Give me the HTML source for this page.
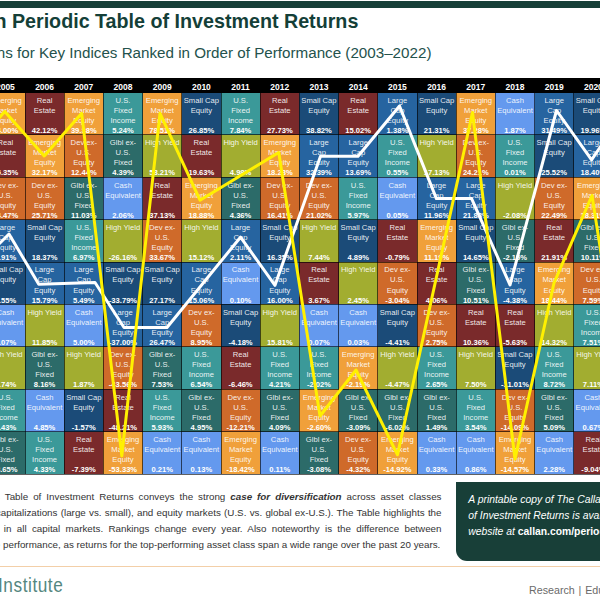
<!DOCTYPE html>
<html><head><meta charset="utf-8">
<style>
html,body{margin:0;padding:0;background:#fff;}
body{width:600px;height:600px;position:relative;overflow:hidden;font-family:"Liberation Sans",sans-serif;}
.topbar{position:absolute;left:0;top:1px;width:600px;height:6.8px;background:#163f38;}
.title{position:absolute;left:-5.6px;top:12.0px;font-size:19.7px;line-height:19.7px;font-weight:bold;color:#143f38;white-space:nowrap;}
.sub{position:absolute;left:-3.3px;top:45.0px;font-size:15.2px;line-height:15.2px;color:#24524c;white-space:nowrap;}
.hdr{position:absolute;left:0;top:78.2px;width:600px;height:14.6px;background:#000;}
.yr{position:absolute;top:80.40px;width:39.2px;height:14.20px;line-height:14.20px;text-align:center;color:#fff;font-weight:bold;font-size:8.5px;}
.gv{position:absolute;width:1px;background:rgba(0,0,0,0.62);top:92.4px;height:381.60px;}
.gh{position:absolute;height:1px;background:rgba(0,0,0,0.62);left:0;width:600px;}
.c{position:absolute;width:39.2px;height:42.4px;box-sizing:border-box;overflow:hidden;}
.c .n{position:absolute;left:-4px;right:-4px;top:3.4px;text-align:center;color:rgba(255,255,255,0.9);font-size:7.65px;line-height:10.1px;white-space:nowrap;}
.c .p{position:absolute;left:-4px;right:-4px;bottom:-0.2px;text-align:center;color:#fff;font-weight:bold;font-size:7.6px;line-height:9px;white-space:nowrap;}
svg.lines{position:absolute;left:0;top:0;}
.para{position:absolute;left:-90.1px;top:488.9px;width:531.6px;font-size:9.8px;line-height:16.1px;color:#333;}
.para div{text-align:justify;text-align-last:justify;white-space:nowrap;}
.para div.l{text-align:left;text-align-last:left;}
.para b{font-style:italic;}
.box{position:absolute;left:456.2px;top:482.2px;width:160px;height:78.6px;background:#183f38;border-bottom-left-radius:11px;}
.boxt{position:absolute;left:468.3px;top:492.3px;width:200px;font-size:10.35px;line-height:16.1px;color:#fff;font-style:italic;white-space:nowrap;}
.boxt b{font-style:normal;}
.oline{position:absolute;left:0;top:566px;width:600px;height:1.2px;background:#f3cfa8;}
.inst{position:absolute;left:-1.6px;top:574.6px;font-size:20.3px;line-height:20.3px;color:#548780;letter-spacing:0.65px;white-space:nowrap;transform:scaleX(0.85);transform-origin:0 0;}
.res{position:absolute;left:529.3px;top:585px;font-size:11.5px;line-height:11.5px;color:#6a6a6a;word-spacing:0.9px;white-space:nowrap;transform:scaleX(0.93);transform-origin:0 0;}
</style></head><body>
<div class="topbar"></div>
<div class="title">n Periodic Table of Investment Returns</div>
<div class="sub">ns for Key Indices Ranked in Order of Performance (2003&ndash;2022)</div>
<div class="c" style="left:-14.20px;top:92.40px;background:#f0a03a"><div class="n">Emerging<br>Market<br>Equity</div><div class="p">34.00%</div></div><div class="c" style="left:-14.20px;top:134.80px;background:#7a2a2b"><div class="n">Real<br>Estate</div><div class="p">15.35%</div></div><div class="c" style="left:-14.20px;top:177.20px;background:#cf6a2a"><div class="n">Dev ex-<br>U.S.<br>Equity</div><div class="p">14.47%</div></div><div class="c" style="left:-14.20px;top:219.60px;background:#2664a0"><div class="n">Large<br>Cap<br>Equity</div><div class="p">4.91%</div></div><div class="c" style="left:-14.20px;top:262.00px;background:#1b4b78"><div class="n">Small Cap<br>Equity</div><div class="p">4.55%</div></div><div class="c" style="left:-14.20px;top:304.40px;background:#6499ee"><div class="n">Cash<br>Equivalent</div><div class="p">3.07%</div></div><div class="c" style="left:-14.20px;top:346.80px;background:#a2ad30"><div class="n">High Yield</div><div class="p">2.74%</div></div><div class="c" style="left:-14.20px;top:389.20px;background:#3b9999"><div class="n">U.S.<br>Fixed<br>Income</div><div class="p">2.43%</div></div><div class="c" style="left:-14.20px;top:431.60px;background:#2c6b69"><div class="n">Glbl ex-<br>U.S.<br>Fixed</div><div class="p">-8.65%</div></div><div class="c" style="left:25.00px;top:92.40px;background:#7a2a2b"><div class="n">Real<br>Estate</div><div class="p">42.12%</div></div><div class="c" style="left:25.00px;top:134.80px;background:#f0a03a"><div class="n">Emerging<br>Market<br>Equity</div><div class="p">32.17%</div></div><div class="c" style="left:25.00px;top:177.20px;background:#cf6a2a"><div class="n">Dev ex-<br>U.S.<br>Equity</div><div class="p">25.71%</div></div><div class="c" style="left:25.00px;top:219.60px;background:#1b4b78"><div class="n">Small Cap<br>Equity</div><div class="p">18.37%</div></div><div class="c" style="left:25.00px;top:262.00px;background:#2664a0"><div class="n">Large<br>Cap<br>Equity</div><div class="p">15.79%</div></div><div class="c" style="left:25.00px;top:304.40px;background:#a2ad30"><div class="n">High Yield</div><div class="p">11.85%</div></div><div class="c" style="left:25.00px;top:346.80px;background:#2c6b69"><div class="n">Glbl ex-<br>U.S.<br>Fixed</div><div class="p">8.16%</div></div><div class="c" style="left:25.00px;top:389.20px;background:#6499ee"><div class="n">Cash<br>Equivalent</div><div class="p">4.85%</div></div><div class="c" style="left:25.00px;top:431.60px;background:#3b9999"><div class="n">U.S.<br>Fixed<br>Income</div><div class="p">4.33%</div></div><div class="c" style="left:64.20px;top:92.40px;background:#f0a03a"><div class="n">Emerging<br>Market<br>Equity</div><div class="p">39.38%</div></div><div class="c" style="left:64.20px;top:134.80px;background:#cf6a2a"><div class="n">Dev ex-<br>U.S.<br>Equity</div><div class="p">12.44%</div></div><div class="c" style="left:64.20px;top:177.20px;background:#2c6b69"><div class="n">Glbl ex-<br>U.S.<br>Fixed</div><div class="p">11.03%</div></div><div class="c" style="left:64.20px;top:219.60px;background:#3b9999"><div class="n">U.S.<br>Fixed<br>Income</div><div class="p">6.97%</div></div><div class="c" style="left:64.20px;top:262.00px;background:#2664a0"><div class="n">Large<br>Cap<br>Equity</div><div class="p">5.49%</div></div><div class="c" style="left:64.20px;top:304.40px;background:#6499ee"><div class="n">Cash<br>Equivalent</div><div class="p">5.00%</div></div><div class="c" style="left:64.20px;top:346.80px;background:#a2ad30"><div class="n">High Yield</div><div class="p">1.87%</div></div><div class="c" style="left:64.20px;top:389.20px;background:#1b4b78"><div class="n">Small Cap<br>Equity</div><div class="p">-1.57%</div></div><div class="c" style="left:64.20px;top:431.60px;background:#7a2a2b"><div class="n">Real<br>Estate</div><div class="p">-7.39%</div></div><div class="c" style="left:103.40px;top:92.40px;background:#3b9999"><div class="n">U.S.<br>Fixed<br>Income</div><div class="p">5.24%</div></div><div class="c" style="left:103.40px;top:134.80px;background:#2c6b69"><div class="n">Glbl ex-<br>U.S.<br>Fixed</div><div class="p">4.39%</div></div><div class="c" style="left:103.40px;top:177.20px;background:#6499ee"><div class="n">Cash<br>Equivalent</div><div class="p">2.06%</div></div><div class="c" style="left:103.40px;top:219.60px;background:#a2ad30"><div class="n">High Yield</div><div class="p">-26.16%</div></div><div class="c" style="left:103.40px;top:262.00px;background:#1b4b78"><div class="n">Small Cap<br>Equity</div><div class="p">-33.79%</div></div><div class="c" style="left:103.40px;top:304.40px;background:#2664a0"><div class="n">Large<br>Cap<br>Equity</div><div class="p">-37.00%</div></div><div class="c" style="left:103.40px;top:346.80px;background:#cf6a2a"><div class="n">Dev ex-<br>U.S.<br>Equity</div><div class="p">-43.56%</div></div><div class="c" style="left:103.40px;top:389.20px;background:#7a2a2b"><div class="n">Real<br>Estate</div><div class="p">-48.21%</div></div><div class="c" style="left:103.40px;top:431.60px;background:#f0a03a"><div class="n">Emerging<br>Market<br>Equity</div><div class="p">-53.33%</div></div><div class="c" style="left:142.60px;top:92.40px;background:#f0a03a"><div class="n">Emerging<br>Market<br>Equity</div><div class="p">78.51%</div></div><div class="c" style="left:142.60px;top:134.80px;background:#a2ad30"><div class="n">High Yield</div><div class="p">58.21%</div></div><div class="c" style="left:142.60px;top:177.20px;background:#7a2a2b"><div class="n">Real<br>Estate</div><div class="p">37.13%</div></div><div class="c" style="left:142.60px;top:219.60px;background:#cf6a2a"><div class="n">Dev ex-<br>U.S.<br>Equity</div><div class="p">33.67%</div></div><div class="c" style="left:142.60px;top:262.00px;background:#1b4b78"><div class="n">Small Cap<br>Equity</div><div class="p">27.17%</div></div><div class="c" style="left:142.60px;top:304.40px;background:#2664a0"><div class="n">Large<br>Cap<br>Equity</div><div class="p">26.47%</div></div><div class="c" style="left:142.60px;top:346.80px;background:#2c6b69"><div class="n">Glbl ex-<br>U.S.<br>Fixed</div><div class="p">7.53%</div></div><div class="c" style="left:142.60px;top:389.20px;background:#3b9999"><div class="n">U.S.<br>Fixed<br>Income</div><div class="p">5.93%</div></div><div class="c" style="left:142.60px;top:431.60px;background:#6499ee"><div class="n">Cash<br>Equivalent</div><div class="p">0.21%</div></div><div class="c" style="left:181.80px;top:92.40px;background:#1b4b78"><div class="n">Small Cap<br>Equity</div><div class="p">26.85%</div></div><div class="c" style="left:181.80px;top:134.80px;background:#7a2a2b"><div class="n">Real<br>Estate</div><div class="p">19.63%</div></div><div class="c" style="left:181.80px;top:177.20px;background:#f0a03a"><div class="n">Emerging<br>Market<br>Equity</div><div class="p">18.88%</div></div><div class="c" style="left:181.80px;top:219.60px;background:#a2ad30"><div class="n">High Yield</div><div class="p">15.12%</div></div><div class="c" style="left:181.80px;top:262.00px;background:#2664a0"><div class="n">Large<br>Cap<br>Equity</div><div class="p">15.06%</div></div><div class="c" style="left:181.80px;top:304.40px;background:#cf6a2a"><div class="n">Dev ex-<br>U.S.<br>Equity</div><div class="p">8.95%</div></div><div class="c" style="left:181.80px;top:346.80px;background:#3b9999"><div class="n">U.S.<br>Fixed<br>Income</div><div class="p">6.54%</div></div><div class="c" style="left:181.80px;top:389.20px;background:#2c6b69"><div class="n">Glbl ex-<br>U.S.<br>Fixed</div><div class="p">4.95%</div></div><div class="c" style="left:181.80px;top:431.60px;background:#6499ee"><div class="n">Cash<br>Equivalent</div><div class="p">0.13%</div></div><div class="c" style="left:221.00px;top:92.40px;background:#3b9999"><div class="n">U.S.<br>Fixed<br>Income</div><div class="p">7.84%</div></div><div class="c" style="left:221.00px;top:134.80px;background:#a2ad30"><div class="n">High Yield</div><div class="p">4.98%</div></div><div class="c" style="left:221.00px;top:177.20px;background:#2c6b69"><div class="n">Glbl ex-<br>U.S.<br>Fixed</div><div class="p">4.36%</div></div><div class="c" style="left:221.00px;top:219.60px;background:#2664a0"><div class="n">Large<br>Cap<br>Equity</div><div class="p">2.11%</div></div><div class="c" style="left:221.00px;top:262.00px;background:#6499ee"><div class="n">Cash<br>Equivalent</div><div class="p">0.10%</div></div><div class="c" style="left:221.00px;top:304.40px;background:#1b4b78"><div class="n">Small Cap<br>Equity</div><div class="p">-4.18%</div></div><div class="c" style="left:221.00px;top:346.80px;background:#7a2a2b"><div class="n">Real<br>Estate</div><div class="p">-6.46%</div></div><div class="c" style="left:221.00px;top:389.20px;background:#cf6a2a"><div class="n">Dev ex-<br>U.S.<br>Equity</div><div class="p">-12.21%</div></div><div class="c" style="left:221.00px;top:431.60px;background:#f0a03a"><div class="n">Emerging<br>Market<br>Equity</div><div class="p">-18.42%</div></div><div class="c" style="left:260.20px;top:92.40px;background:#7a2a2b"><div class="n">Real<br>Estate</div><div class="p">27.73%</div></div><div class="c" style="left:260.20px;top:134.80px;background:#f0a03a"><div class="n">Emerging<br>Market<br>Equity</div><div class="p">18.23%</div></div><div class="c" style="left:260.20px;top:177.20px;background:#cf6a2a"><div class="n">Dev ex-<br>U.S.<br>Equity</div><div class="p">16.41%</div></div><div class="c" style="left:260.20px;top:219.60px;background:#1b4b78"><div class="n">Small Cap<br>Equity</div><div class="p">16.35%</div></div><div class="c" style="left:260.20px;top:262.00px;background:#2664a0"><div class="n">Large<br>Cap<br>Equity</div><div class="p">16.00%</div></div><div class="c" style="left:260.20px;top:304.40px;background:#a2ad30"><div class="n">High Yield</div><div class="p">15.81%</div></div><div class="c" style="left:260.20px;top:346.80px;background:#3b9999"><div class="n">U.S.<br>Fixed<br>Income</div><div class="p">4.21%</div></div><div class="c" style="left:260.20px;top:389.20px;background:#2c6b69"><div class="n">Glbl ex-<br>U.S.<br>Fixed</div><div class="p">4.09%</div></div><div class="c" style="left:260.20px;top:431.60px;background:#6499ee"><div class="n">Cash<br>Equivalent</div><div class="p">0.11%</div></div><div class="c" style="left:299.40px;top:92.40px;background:#1b4b78"><div class="n">Small Cap<br>Equity</div><div class="p">38.82%</div></div><div class="c" style="left:299.40px;top:134.80px;background:#2664a0"><div class="n">Large<br>Cap<br>Equity</div><div class="p">32.39%</div></div><div class="c" style="left:299.40px;top:177.20px;background:#cf6a2a"><div class="n">Dev ex-<br>U.S.<br>Equity</div><div class="p">21.02%</div></div><div class="c" style="left:299.40px;top:219.60px;background:#a2ad30"><div class="n">High Yield</div><div class="p">7.44%</div></div><div class="c" style="left:299.40px;top:262.00px;background:#7a2a2b"><div class="n">Real<br>Estate</div><div class="p">3.67%</div></div><div class="c" style="left:299.40px;top:304.40px;background:#6499ee"><div class="n">Cash<br>Equivalent</div><div class="p">0.07%</div></div><div class="c" style="left:299.40px;top:346.80px;background:#3b9999"><div class="n">U.S.<br>Fixed<br>Income</div><div class="p">-2.02%</div></div><div class="c" style="left:299.40px;top:389.20px;background:#f0a03a"><div class="n">Emerging<br>Market<br>Equity</div><div class="p">-2.60%</div></div><div class="c" style="left:299.40px;top:431.60px;background:#2c6b69"><div class="n">Glbl ex-<br>U.S.<br>Fixed</div><div class="p">-3.08%</div></div><div class="c" style="left:338.60px;top:92.40px;background:#7a2a2b"><div class="n">Real<br>Estate</div><div class="p">15.02%</div></div><div class="c" style="left:338.60px;top:134.80px;background:#2664a0"><div class="n">Large<br>Cap<br>Equity</div><div class="p">13.69%</div></div><div class="c" style="left:338.60px;top:177.20px;background:#3b9999"><div class="n">U.S.<br>Fixed<br>Income</div><div class="p">5.97%</div></div><div class="c" style="left:338.60px;top:219.60px;background:#1b4b78"><div class="n">Small Cap<br>Equity</div><div class="p">4.89%</div></div><div class="c" style="left:338.60px;top:262.00px;background:#a2ad30"><div class="n">High Yield</div><div class="p">2.45%</div></div><div class="c" style="left:338.60px;top:304.40px;background:#6499ee"><div class="n">Cash<br>Equivalent</div><div class="p">0.03%</div></div><div class="c" style="left:338.60px;top:346.80px;background:#f0a03a"><div class="n">Emerging<br>Market<br>Equity</div><div class="p">-2.19%</div></div><div class="c" style="left:338.60px;top:389.20px;background:#2c6b69"><div class="n">Glbl ex-<br>U.S.<br>Fixed</div><div class="p">-3.09%</div></div><div class="c" style="left:338.60px;top:431.60px;background:#cf6a2a"><div class="n">Dev ex-<br>U.S.<br>Equity</div><div class="p">-4.32%</div></div><div class="c" style="left:377.80px;top:92.40px;background:#2664a0"><div class="n">Large<br>Cap<br>Equity</div><div class="p">1.38%</div></div><div class="c" style="left:377.80px;top:134.80px;background:#3b9999"><div class="n">U.S.<br>Fixed<br>Income</div><div class="p">0.55%</div></div><div class="c" style="left:377.80px;top:177.20px;background:#6499ee"><div class="n">Cash<br>Equivalent</div><div class="p">0.05%</div></div><div class="c" style="left:377.80px;top:219.60px;background:#7a2a2b"><div class="n">Real<br>Estate</div><div class="p">-0.79%</div></div><div class="c" style="left:377.80px;top:262.00px;background:#cf6a2a"><div class="n">Dev ex-<br>U.S.<br>Equity</div><div class="p">-3.04%</div></div><div class="c" style="left:377.80px;top:304.40px;background:#1b4b78"><div class="n">Small Cap<br>Equity</div><div class="p">-4.41%</div></div><div class="c" style="left:377.80px;top:346.80px;background:#a2ad30"><div class="n">High Yield</div><div class="p">-4.47%</div></div><div class="c" style="left:377.80px;top:389.20px;background:#2c6b69"><div class="n">Glbl ex-<br>U.S.<br>Fixed</div><div class="p">-6.02%</div></div><div class="c" style="left:377.80px;top:431.60px;background:#f0a03a"><div class="n">Emerging<br>Market<br>Equity</div><div class="p">-14.92%</div></div><div class="c" style="left:417.00px;top:92.40px;background:#1b4b78"><div class="n">Small Cap<br>Equity</div><div class="p">21.31%</div></div><div class="c" style="left:417.00px;top:134.80px;background:#a2ad30"><div class="n">High Yield</div><div class="p">17.13%</div></div><div class="c" style="left:417.00px;top:177.20px;background:#2664a0"><div class="n">Large<br>Cap<br>Equity</div><div class="p">11.96%</div></div><div class="c" style="left:417.00px;top:219.60px;background:#f0a03a"><div class="n">Emerging<br>Market<br>Equity</div><div class="p">11.19%</div></div><div class="c" style="left:417.00px;top:262.00px;background:#7a2a2b"><div class="n">Real<br>Estate</div><div class="p">4.06%</div></div><div class="c" style="left:417.00px;top:304.40px;background:#cf6a2a"><div class="n">Dev ex-<br>U.S.<br>Equity</div><div class="p">2.75%</div></div><div class="c" style="left:417.00px;top:346.80px;background:#3b9999"><div class="n">U.S.<br>Fixed<br>Income</div><div class="p">2.65%</div></div><div class="c" style="left:417.00px;top:389.20px;background:#2c6b69"><div class="n">Glbl ex-<br>U.S.<br>Fixed</div><div class="p">1.49%</div></div><div class="c" style="left:417.00px;top:431.60px;background:#6499ee"><div class="n">Cash<br>Equivalent</div><div class="p">0.33%</div></div><div class="c" style="left:456.20px;top:92.40px;background:#f0a03a"><div class="n">Emerging<br>Market<br>Equity</div><div class="p">37.28%</div></div><div class="c" style="left:456.20px;top:134.80px;background:#cf6a2a"><div class="n">Dev ex-<br>U.S.<br>Equity</div><div class="p">24.21%</div></div><div class="c" style="left:456.20px;top:177.20px;background:#2664a0"><div class="n">Large<br>Cap<br>Equity</div><div class="p">21.83%</div></div><div class="c" style="left:456.20px;top:219.60px;background:#1b4b78"><div class="n">Small Cap<br>Equity</div><div class="p">14.65%</div></div><div class="c" style="left:456.20px;top:262.00px;background:#2c6b69"><div class="n">Glbl ex-<br>U.S.<br>Fixed</div><div class="p">10.51%</div></div><div class="c" style="left:456.20px;top:304.40px;background:#7a2a2b"><div class="n">Real<br>Estate</div><div class="p">10.36%</div></div><div class="c" style="left:456.20px;top:346.80px;background:#a2ad30"><div class="n">High Yield</div><div class="p">7.50%</div></div><div class="c" style="left:456.20px;top:389.20px;background:#3b9999"><div class="n">U.S.<br>Fixed<br>Income</div><div class="p">3.54%</div></div><div class="c" style="left:456.20px;top:431.60px;background:#6499ee"><div class="n">Cash<br>Equivalent</div><div class="p">0.86%</div></div><div class="c" style="left:495.40px;top:92.40px;background:#6499ee"><div class="n">Cash<br>Equivalent</div><div class="p">1.87%</div></div><div class="c" style="left:495.40px;top:134.80px;background:#3b9999"><div class="n">U.S.<br>Fixed<br>Income</div><div class="p">0.01%</div></div><div class="c" style="left:495.40px;top:177.20px;background:#a2ad30"><div class="n">High Yield</div><div class="p">-2.08%</div></div><div class="c" style="left:495.40px;top:219.60px;background:#2c6b69"><div class="n">Glbl ex-<br>U.S.<br>Fixed</div><div class="p">-2.15%</div></div><div class="c" style="left:495.40px;top:262.00px;background:#2664a0"><div class="n">Large<br>Cap<br>Equity</div><div class="p">-4.38%</div></div><div class="c" style="left:495.40px;top:304.40px;background:#7a2a2b"><div class="n">Real<br>Estate</div><div class="p">-5.63%</div></div><div class="c" style="left:495.40px;top:346.80px;background:#1b4b78"><div class="n">Small Cap<br>Equity</div><div class="p">-11.01%</div></div><div class="c" style="left:495.40px;top:389.20px;background:#cf6a2a"><div class="n">Dev ex-<br>U.S.<br>Equity</div><div class="p">-14.09%</div></div><div class="c" style="left:495.40px;top:431.60px;background:#f0a03a"><div class="n">Emerging<br>Market<br>Equity</div><div class="p">-14.57%</div></div><div class="c" style="left:534.60px;top:92.40px;background:#2664a0"><div class="n">Large<br>Cap<br>Equity</div><div class="p">31.49%</div></div><div class="c" style="left:534.60px;top:134.80px;background:#1b4b78"><div class="n">Small Cap<br>Equity</div><div class="p">25.52%</div></div><div class="c" style="left:534.60px;top:177.20px;background:#cf6a2a"><div class="n">Dev ex-<br>U.S.<br>Equity</div><div class="p">22.49%</div></div><div class="c" style="left:534.60px;top:219.60px;background:#7a2a2b"><div class="n">Real<br>Estate</div><div class="p">21.91%</div></div><div class="c" style="left:534.60px;top:262.00px;background:#f0a03a"><div class="n">Emerging<br>Market<br>Equity</div><div class="p">18.44%</div></div><div class="c" style="left:534.60px;top:304.40px;background:#a2ad30"><div class="n">High Yield</div><div class="p">14.32%</div></div><div class="c" style="left:534.60px;top:346.80px;background:#3b9999"><div class="n">U.S.<br>Fixed<br>Income</div><div class="p">8.72%</div></div><div class="c" style="left:534.60px;top:389.20px;background:#2c6b69"><div class="n">Glbl ex-<br>U.S.<br>Fixed</div><div class="p">5.09%</div></div><div class="c" style="left:534.60px;top:431.60px;background:#6499ee"><div class="n">Cash<br>Equivalent</div><div class="p">2.28%</div></div><div class="c" style="left:573.80px;top:92.40px;background:#1b4b78"><div class="n">Small Cap<br>Equity</div><div class="p">19.96%</div></div><div class="c" style="left:573.80px;top:134.80px;background:#2664a0"><div class="n">Large<br>Cap<br>Equity</div><div class="p">18.40%</div></div><div class="c" style="left:573.80px;top:177.20px;background:#f0a03a"><div class="n">Emerging<br>Market<br>Equity</div><div class="p">18.31%</div></div><div class="c" style="left:573.80px;top:219.60px;background:#2c6b69"><div class="n">Glbl ex-<br>U.S.<br>Fixed</div><div class="p">10.11%</div></div><div class="c" style="left:573.80px;top:262.00px;background:#cf6a2a"><div class="n">Dev ex-<br>U.S.<br>Equity</div><div class="p">7.59%</div></div><div class="c" style="left:573.80px;top:304.40px;background:#3b9999"><div class="n">U.S.<br>Fixed<br>Income</div><div class="p">7.51%</div></div><div class="c" style="left:573.80px;top:346.80px;background:#a2ad30"><div class="n">High Yield</div><div class="p">7.11%</div></div><div class="c" style="left:573.80px;top:389.20px;background:#6499ee"><div class="n">Cash<br>Equivalent</div><div class="p">0.67%</div></div><div class="c" style="left:573.80px;top:431.60px;background:#7a2a2b"><div class="n">Real<br>Estate</div><div class="p">-9.04%</div></div>
<div class="gv" style="left:24.50px"></div><div class="gv" style="left:63.70px"></div><div class="gv" style="left:102.90px"></div><div class="gv" style="left:142.10px"></div><div class="gv" style="left:181.30px"></div><div class="gv" style="left:220.50px"></div><div class="gv" style="left:259.70px"></div><div class="gv" style="left:298.90px"></div><div class="gv" style="left:338.10px"></div><div class="gv" style="left:377.30px"></div><div class="gv" style="left:416.50px"></div><div class="gv" style="left:455.70px"></div><div class="gv" style="left:494.90px"></div><div class="gv" style="left:534.10px"></div><div class="gv" style="left:573.30px"></div><div class="gv" style="left:612.50px"></div><div class="gh" style="top:134.30px"></div><div class="gh" style="top:176.70px"></div><div class="gh" style="top:219.10px"></div><div class="gh" style="top:261.50px"></div><div class="gh" style="top:303.90px"></div><div class="gh" style="top:346.30px"></div><div class="gh" style="top:388.70px"></div><div class="gh" style="top:431.10px"></div><div class="gh" style="top:473.50px"></div>
<div class="hdr"></div>
<div class="yr" style="left:-14.20px">2005</div><div class="yr" style="left:25.00px">2006</div><div class="yr" style="left:64.20px">2007</div><div class="yr" style="left:103.40px">2008</div><div class="yr" style="left:142.60px">2009</div><div class="yr" style="left:181.80px">2010</div><div class="yr" style="left:221.00px">2011</div><div class="yr" style="left:260.20px">2012</div><div class="yr" style="left:299.40px">2013</div><div class="yr" style="left:338.60px">2014</div><div class="yr" style="left:377.80px">2015</div><div class="yr" style="left:417.00px">2016</div><div class="yr" style="left:456.20px">2017</div><div class="yr" style="left:495.40px">2018</div><div class="yr" style="left:534.60px">2019</div><div class="yr" style="left:573.80px">2020</div>
<svg class="lines" width="600" height="600" viewBox="0 0 600 600">
<polyline points="-30.00,273.00 9.00,234.00 38.75,284.25 95.00,282.50 124.00,327.50 167.00,327.50 240.50,237.20 275.00,285.30 320.50,156.25 358.00,156.25 399.50,106.00 436.40,198.60 471.60,198.60 510.00,285.00 556.50,110.50 591.60,159.80 632.00,100.00" fill="none" stroke="#fff" stroke-width="3" stroke-linejoin="round"/>
<polyline points="-34.00,156.00 4.70,111.60 44.20,156.00 81.70,113.30 121.80,455.80 160.00,113.30 200.00,200.20 278.75,152.50 320.00,416.00 356.00,370.00 397.50,454.80 472.50,112.50 515.00,459.00 554.00,283.00 592.00,195.50 632.00,451.00" fill="none" stroke="#fff000" stroke-width="3" stroke-linejoin="round" stroke-linejoin="round"/>
</svg>
<div class="para"><div>The Callan Periodic Table of Investment Returns conveys the strong <b>case for diversification</b> across asset classes</div><div>(stocks vs. bonds), capitalizations (large vs. small), and equity markets (U.S. vs. global ex-U.S.). The Table highlights the</div><div>uncertainty inherent in all capital markets. Rankings change every year. Also noteworthy is the difference between</div><div class="l">absolute and relative performance, as returns for the top-performing asset class span a wide range over the past 20 years.</div></div>
<div class="box"></div>
<div class="boxt">A printable copy of The Callan Periodic Table<br>of Investment Returns is available on our<br>website at <b>callan.com/periodic-table</b></div>
<div class="oline"></div>
<div class="inst">Institute</div>
<div class="res">Research | Education</div>
</body></html>
